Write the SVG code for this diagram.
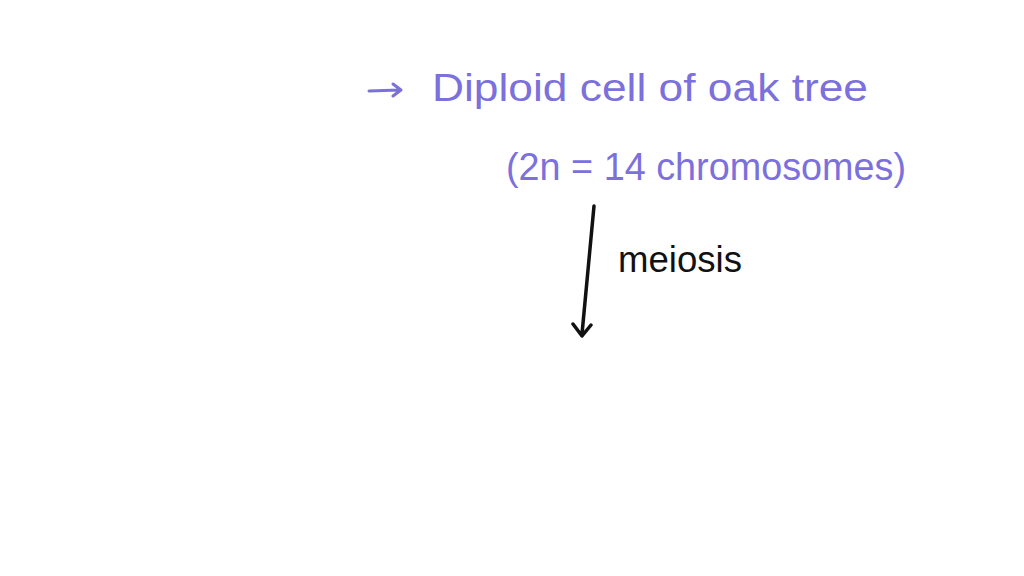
<svg xmlns="http://www.w3.org/2000/svg" width="1024" height="576" viewBox="0 0 1024 576">
<style>
.p{fill:#7b70dc;font-family:"Liberation Sans",sans-serif;font-size:38px}
.k{fill:#111;font-family:"Liberation Sans",sans-serif;font-size:36px}
.pl{fill:none;stroke:#7b70dc;stroke-width:3;stroke-linecap:round;stroke-linejoin:round}
.bl{fill:none;stroke:#111;stroke-width:3.5;stroke-linecap:round;stroke-linejoin:round}
</style>
<rect width="1024" height="576" fill="#fff"/>
<g id="diploid">
<path class="pl" d="M369 91 L400 90 M393 84 L401 90 L393 96"/>
<text class="p" x="432" y="101" textLength="436" lengthAdjust="spacingAndGlyphs">Diploid cell of oak tree</text>
<text class="p" x="506" y="180" textLength="400" lengthAdjust="spacingAndGlyphs">(2n = 14 chromosomes)</text>
</g>
<g id="connectors">
<path class="bl" d="M594 206 L582 334 M573 324 L582 336 L591 325"/>
</g>
<g id="label-meiosis">
<text class="k" x="618" y="272" textLength="124" lengthAdjust="spacingAndGlyphs">meiosis</text>
</g>
</svg>
